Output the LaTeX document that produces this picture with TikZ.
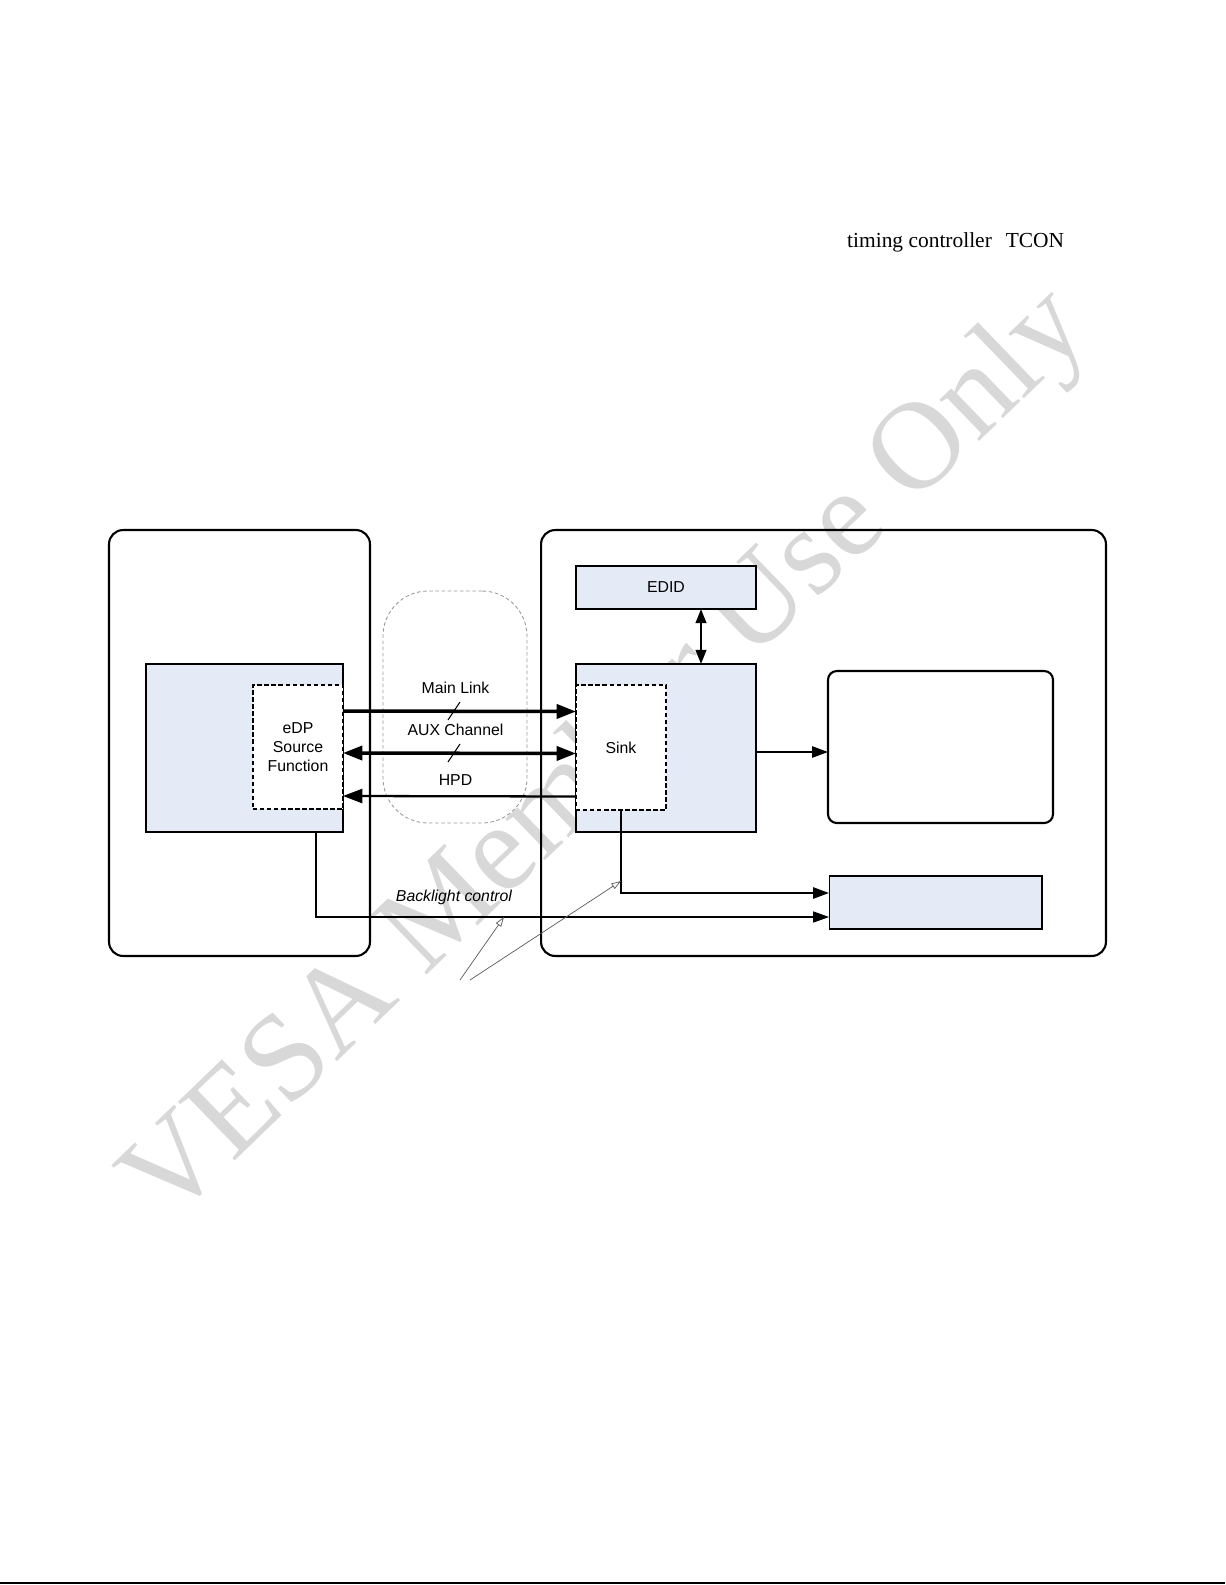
\documentclass[tikz,border=0pt]{standalone}
\usepackage{fontspec}
\setmainfont{Liberation Sans}
\newfontfamily\timesfont{Liberation Serif}
\usepackage{xcolor}
\usetikzlibrary{arrows.meta}
\definecolor{blockblue}{RGB}{228,235,246}
\definecolor{wmgray}{RGB}{216,216,216}
\tikzset{
  board/.style={draw, line width=1.2pt, rounded corners=8pt, inner sep=0pt, outer sep=0pt},
  blk/.style={draw, line width=0.6pt, fill=blockblue, inner sep=0pt, outer sep=0pt,
              font=\fontsize{9}{10.9}\selectfont},
  fn/.style={draw, dash pattern=on 2.5pt off 1.5pt, line width=0.6pt, fill=white, align=center,
             inner sep=0pt, outer sep=0pt, font=\fontsize{9}{10.9}\selectfont},
  lane/.style={-{Triangle[length=11pt,width=8pt]}, line width=2pt},
  ctl/.style={-{Triangle[length=9pt,width=6.3pt]}, line width=1.2pt},
  lbl/.style={font=\fontsize{9}{10.9}\selectfont, inner sep=0pt, xshift=-0.08cm},
}

\begin{document}
\begin{tikzpicture}[x=0.02cm, y=-0.02cm,
  cable/.style={draw=gray!80, dash pattern=on 2pt off 1.5pt, line width=0.5pt, rounded corners=0.9cm},
  lead/.style={gray!70!black, line width=0.4pt, -{Triangle[open, length=5.5pt, width=3.6pt]}},
  tick/.style={line width=0.6pt},
]
  \useasboundingbox (0,0) rectangle (1225,1585);

  % Watermark (behind the blocks)
  \node[rotate=44, text=wmgray, inner sep=0pt,
        font=\timesfont\fontsize{71}{71}\selectfont] (wmark) at (609,758) {VESA Member Use Only};

  % Caption line
  \node[anchor=base west, font=\timesfont\fontsize{12.2}{14}\selectfont] (tcon) at (841,247)
    {timing controller\hspace{0.65em}TCON};

  % Boards
  \node[board, minimum width=5.22cm, minimum height=8.52cm] (host) at (239.5,743) {};
  \node[board, minimum width=11.3cm, minimum height=8.52cm] (dev) at (823.5,743) {};
  \node[cable, minimum width=2.88cm, minimum height=4.64cm] (wire) at (455,707) {};

  % Source side
  \node[blk, minimum width=3.94cm, minimum height=3.36cm] (src) at (244.5,748) {};
  \node[fn, minimum width=1.8cm, minimum height=2.48cm] (edp) at (298,747) {eDP\\Source\\Function};

  % Sink side
  \node[blk, minimum width=3.6cm, minimum height=0.86cm] (edid) at (666,587.5) {EDID};
  \node[blk, minimum width=3.6cm, minimum height=3.36cm] (sinkblk) at (666,748) {};
  \node[fn, minimum width=1.8cm, minimum height=2.5cm] (sink) at (621,747.5) {Sink};
  \node[board, rounded corners=5pt, minimum width=4.5cm, minimum height=3.04cm] (panel) at (940.5,747) {};
  \node[blk, minimum width=4.26cm, minimum height=1.06cm] (blu) at (935.5,902.5) {};

  % Link lanes
  \draw[lane] ([yshift=0.72cm]edp.east) -- node[lbl, above=8.8pt]{Main Link} ([yshift=0.72cm]sink.west);
  \draw[lane, {Triangle[length=11pt,width=8pt]}-{Triangle[length=11pt,width=8pt]}]
    ([yshift=-0.12cm]edp.east) -- node[lbl, above=8.8pt]{AUX Channel} ([yshift=-0.12cm]sink.west);
  \draw[lane, line width=1.3pt] ([yshift=-0.98cm]sink.west) -- node[lbl, above=5.2pt]{HPD} ([yshift=-0.98cm]edp.east);
  \draw[tick] (448,720) -- (460,702);
  \draw[tick] (448,762) -- (460,744);

  % Sink side connections
  \draw[line width=1.2pt, {Triangle[length=8pt,width=6pt]}-{Triangle[length=8pt,width=6pt]}]
    ([xshift=0.7cm]edid.south) -- ([xshift=0.7cm]sinkblk.north);
  \draw[ctl] ([yshift=-0.08cm]sinkblk.east) -- ([yshift=-0.08cm]sinkblk.east -| panel.west);
  \draw[ctl] (sink.south) |- ([yshift=0.19cm]blu.west);

  % Backlight control
  \draw[ctl, line width=0.6pt] ([xshift=1.43cm]src.south) |- ([yshift=-0.29cm]blu.west);
  \node[lbl, xshift=0.08cm, font=\fontsize{9}{10.9}\selectfont\itshape] (blc) at (454,897) {Backlight control};

  % Leader lines
  \coordinate (tagA) at (460,980);
  \coordinate (tagB) at (470,980);
  \coordinate (hitA) at (504,917);
  \coordinate (hitB) at (621,881);
  \draw[lead] (tagA) -- (hitA);
  \draw[lead] (tagB) -- (hitB);

  % Page rule
  \draw[line width=1.1pt] (0,1583) -- (1225,1583);
\end{tikzpicture}
\end{document}
